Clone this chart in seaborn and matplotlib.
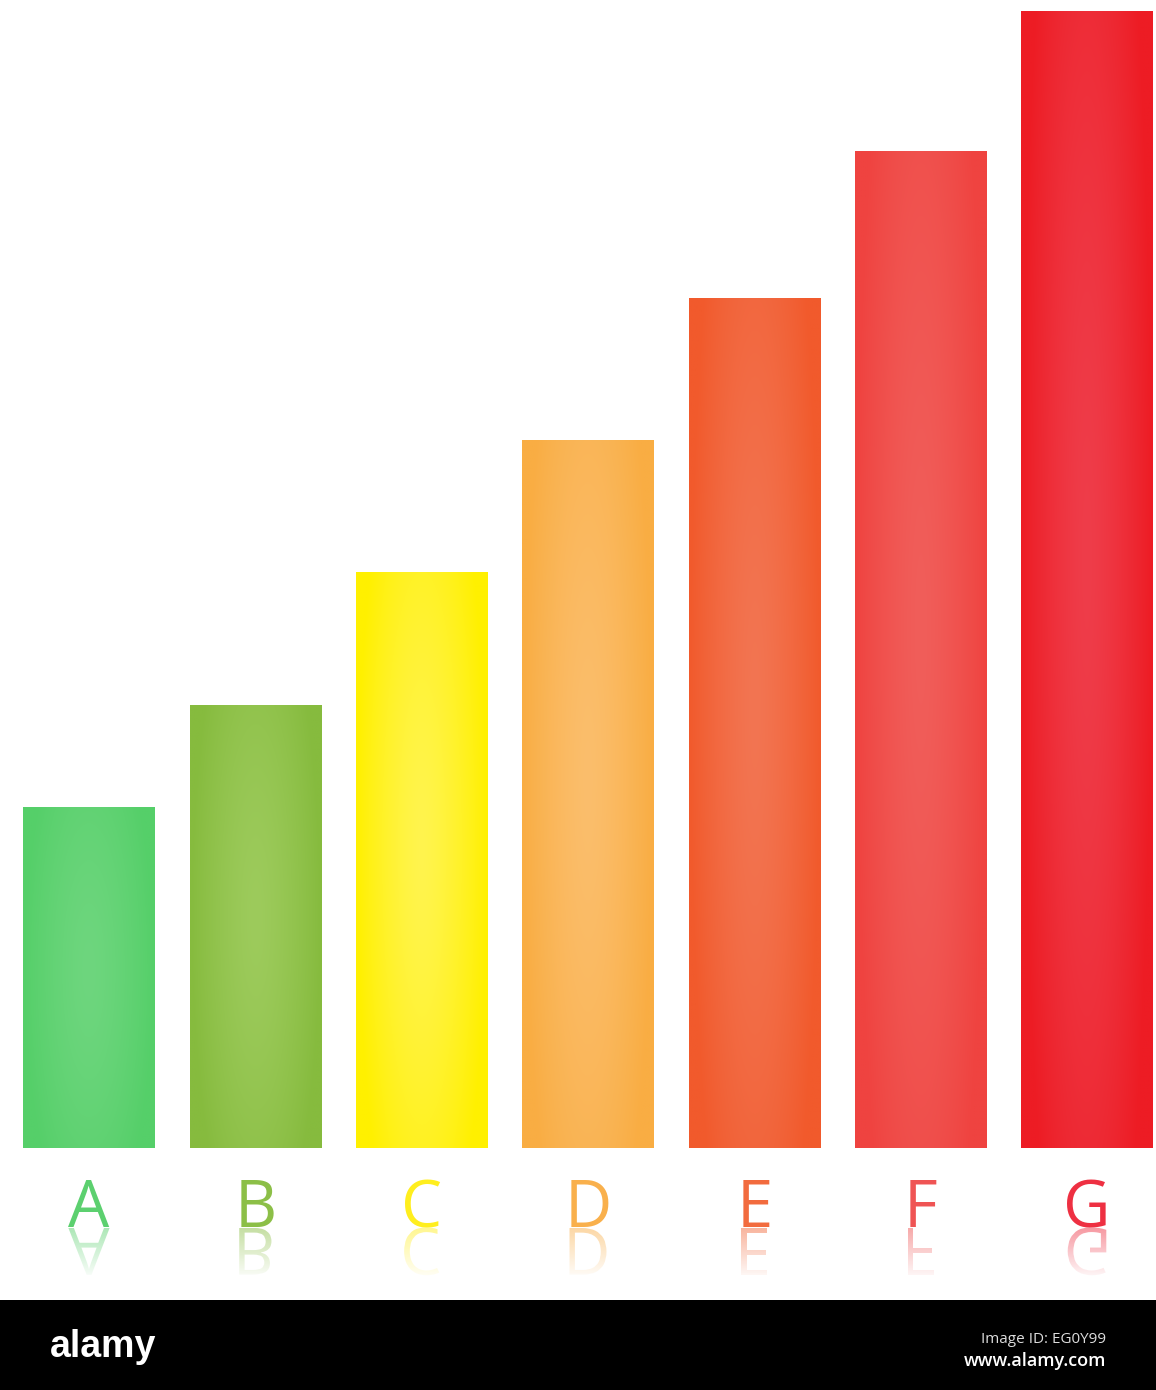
import numpy as np
import pandas as pd
import seaborn as sns
import matplotlib.pyplot as plt
from matplotlib.colors import to_rgb
from matplotlib.textpath import TextPath
from matplotlib.font_manager import FontProperties
from matplotlib.patches import PathPatch, Rectangle
from matplotlib.transforms import Affine2D, blended_transform_factory

# energy rating bars, heights
grades = ['A', 'B', 'C', 'D', 'E', 'F', 'G']
values = [3.0, 3.9, 5.07, 6.23, 7.48, 8.77, 10.0]
edge_colors = ['#55CF69', '#86BB3E', '#FFF000', '#F9AD43', '#F15A2C', '#EF4340', '#ED1C24']
center_colors = ['#6ED67E', '#9DCB5C', '#FFF44E', '#FBBE6C', '#F37552', '#F15E5A', '#EF3D4A']
letter_colors = ['#5CD06F', '#8CBF47', '#FFEE1E', '#F9B04C', '#F26B3E', '#EF5454', '#EE3042']

W, H = 1156, 1390
fig = plt.figure(figsize=(W / 100, H / 100), dpi=100)
fig.patch.set_facecolor('white')

# pixel geometry of the plotting area
bottom_px = 1148
ax = fig.add_axes([0, (H - bottom_px) / H, 1, bottom_px / H])
df = pd.DataFrame({'grade': grades, 'value': values})
sns.barplot(data=df, x='grade', y='value', hue='grade', palette=edge_colors,
            width=0.79, saturation=1, legend=False, ax=ax)
step = (1087 - 89) / 6
ax.set_xlim(-89 / step, (W - 89) / step)
ax.set_ylim(0, values[-1] * bottom_px / 1137)
ax.axis('off')

# soft light gradient inside each bar
ny, nx = 200, 100
yy, xx = np.mgrid[0:1:ny * 1j, 0:1:nx * 1j]
u = (xx - 0.5) / 0.5
v = (yy - 0.52) / 0.5
r = np.clip(np.sqrt(u ** 2 + 0.4 * v ** 2), 0, 1) ** 1.4
for patch, c0, c1 in zip(ax.patches, center_colors, edge_colors):
    c0 = np.array(to_rgb(c0))
    c1 = np.array(to_rgb(c1))
    img = c0[None, None, :] * (1 - r[..., None]) + c1[None, None, :] * r[..., None]
    x0, y0 = patch.get_x(), patch.get_y()
    w, h = patch.get_width(), patch.get_height()
    im = ax.imshow(img, extent=[x0, x0 + w, y0, y0 + h], origin='lower',
                   aspect='auto', interpolation='bilinear', zorder=2)
    im.set_clip_path(patch)
ax.set_xlim(-89 / step, (W - 89) / step)
ax.set_ylim(0, values[-1] * bottom_px / 1137)

# letters under the bars
letter_font = FontProperties(family='Open Sans', size=47)
trans = blended_transform_factory(ax.transData, ax.transAxes)
base_px = 1227
for i, (g, c) in enumerate(zip(grades, letter_colors)):
    ax.text(i, -(base_px - bottom_px) / bottom_px, g, transform=trans,
            ha='center', va='baseline', color=c, fontproperties=letter_font)

# reflections of the letters in a pixel overlay
ov = fig.add_axes([0, 0, 1, 1], zorder=5)
ov.set_xlim(0, W)
ov.set_ylim(0, H)
ov.axis('off')
ov.patch.set_alpha(0)
base_y = H - base_px
for i, (g, c) in enumerate(zip(grades, letter_colors)):
    cx = ax.transData.transform((i, 0))[0]
    tp = TextPath((0, 0), g, size=47 * 100 / 72, prop=FontProperties(family='Open Sans'))
    ext = tp.get_extents()
    tr = Affine2D().translate(-(ext.x0 + ext.x1) / 2, 0).scale(1, -1).translate(cx, base_y - 1)
    path = tr.transform_path(tp)
    pp = PathPatch(path, facecolor='none', edgecolor='none')
    ov.add_patch(pp)
    top = base_y - 1
    bot = top - ext.y1 - 2
    grad = np.zeros((60, 2, 4))
    grad[..., :3] = to_rgb(c)
    grad[..., 3] = np.linspace(0.04, 0.5, 60)[:, None]
    im = ov.imshow(grad, extent=[cx - 40, cx + 40, bot, top], origin='lower',
                   aspect='auto', interpolation='bilinear')
    im.set_clip_path(pp)
ov.set_xlim(0, W)
ov.set_ylim(0, H)

# black footer band
ov.add_patch(Rectangle((0, 0), W, H - 1300, facecolor='black', edgecolor='none'))
ov.text(50, H - 1357, 'alamy', color='white', fontsize=27, fontweight='bold',
        family=['Liberation Sans', 'DejaVu Sans'], ha='left', va='baseline')
ov.text(1106, H - 1343, 'Image ID: EG0Y99', color='#DDDDDD', fontsize=11,
        family=['Open Sans', 'DejaVu Sans'], ha='right', va='baseline')
ov.text(1106, H - 1366, 'www.alamy.com', color='white', fontsize=13, fontweight='semibold',
        family=['Open Sans', 'DejaVu Sans'], ha='right', va='baseline')

fig.savefig('out.png', dpi=100, facecolor='white')
